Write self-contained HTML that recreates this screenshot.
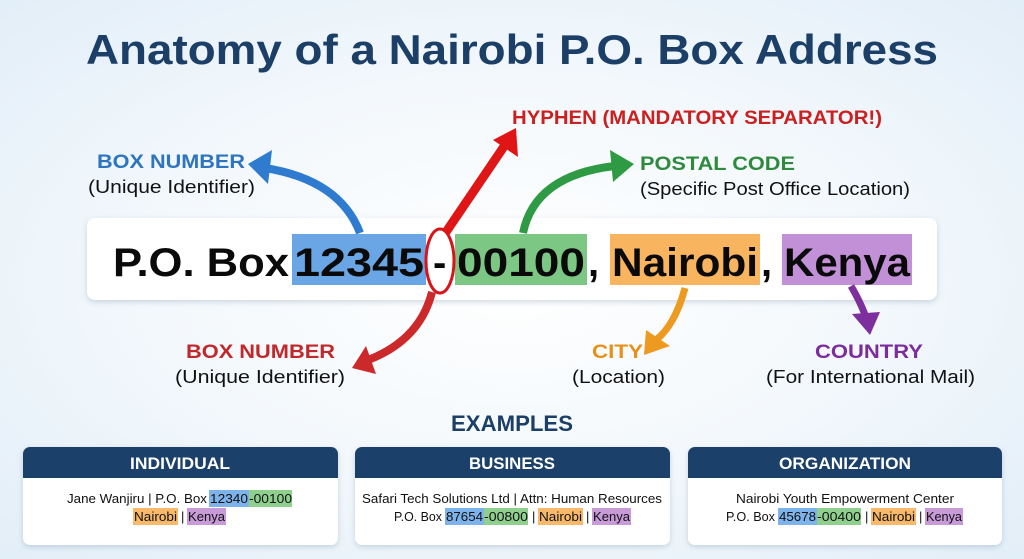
<!DOCTYPE html>
<html><head><meta charset="utf-8"><style>
html,body{margin:0;padding:0;width:1024px;height:559px;overflow:hidden}
body{background:radial-gradient(ellipse at 50% 50%,#ffffff 0%,#f3f8fc 50%,#e2eef8 100%)}
svg{display:block}
text{font-family:"Liberation Sans",sans-serif;font-weight:bold}
.n{font-weight:normal}
</style></head><body>
<svg width="1024" height="559" viewBox="0 0 1024 559">
<defs>
<filter id="sh" x="-5%" y="-20%" width="110%" height="150%"><feDropShadow dx="0" dy="2" stdDeviation="3" flood-color="#7a90a8" flood-opacity="0.35"/></filter>
</defs>
<text x="512" y="64" text-anchor="middle" font-size="42" fill="#1b3f66" textLength="852" lengthAdjust="spacingAndGlyphs">Anatomy of a Nairobi P.O. Box Address</text>

<rect x="87" y="218" width="850" height="82" rx="8" fill="#fff" filter="url(#sh)"/>
<rect x="292" y="234" width="134" height="51" fill="#6aa6e6"/>
<rect x="455" y="234" width="132" height="51" fill="#7cc784"/>
<rect x="610" y="234" width="150" height="51" fill="#f8b45e"/>
<rect x="782" y="234" width="130" height="51" fill="#c290d6"/>
<text x="113" y="276" font-size="40" fill="#0a0a0a" textLength="176" lengthAdjust="spacingAndGlyphs">P.O. Box</text>
<text x="294" y="276" font-size="40" fill="#0a0a0a" textLength="130" lengthAdjust="spacingAndGlyphs">12345</text>
<text x="433" y="276" font-size="40" fill="#0a0a0a">-</text>
<text x="457" y="276" font-size="40" fill="#0a0a0a" textLength="128" lengthAdjust="spacingAndGlyphs">00100</text>
<text x="588" y="276" font-size="40" fill="#0a0a0a">,</text>
<text x="612" y="276" font-size="40" fill="#0a0a0a" textLength="146" lengthAdjust="spacingAndGlyphs">Nairobi</text>
<text x="761" y="276" font-size="40" fill="#0a0a0a">,</text>
<text x="784" y="276" font-size="40" fill="#0a0a0a" textLength="126" lengthAdjust="spacingAndGlyphs">Kenya</text>
<ellipse cx="440" cy="261" rx="14" ry="32" fill="none" stroke="#d8141a" stroke-width="3"/>

<!-- arrows -->
<path d="M360 233 Q340 180 265 168" fill="none" stroke="#2e7bcf" stroke-width="8"/>
<polygon points="248,164 272,150 268,184" fill="#2e7bcf"/>
<path d="M446 232 L505 145" fill="none" stroke="#e01616" stroke-width="9"/>
<polygon points="516,128 493,140 518,157" fill="#e01616"/>
<path d="M523 233 Q535 175 615 166" fill="none" stroke="#2f9a44" stroke-width="8"/>
<polygon points="634,164 610,150 613,182" fill="#2f9a44"/>
<path d="M432 292 Q420 340 368 360" fill="none" stroke="#cc2a2a" stroke-width="8"/>
<polygon points="352,368 366,346 376,374" fill="#cc2a2a"/>
<path d="M685 288 Q675 325 656 340" fill="none" stroke="#ec9a20" stroke-width="7"/>
<polygon points="644,355 646,330 670,346" fill="#ec9a20"/>
<path d="M851 286 Q862 305 866 318" fill="none" stroke="#7e2f9e" stroke-width="7"/>
<polygon points="870,335 852,314 880,312" fill="#7e2f9e"/>

<!-- labels -->
<text x="97" y="168" font-size="19" fill="#2e75c0" textLength="148" lengthAdjust="spacingAndGlyphs">BOX NUMBER</text>
<text x="88" y="193" class="n" font-size="18" fill="#111" textLength="167" lengthAdjust="spacingAndGlyphs">(Unique Identifier)</text>
<text x="512" y="124" font-size="19" fill="#cc1f1f" textLength="370" lengthAdjust="spacingAndGlyphs">HYPHEN (MANDATORY SEPARATOR!)</text>
<text x="640" y="170" font-size="19" fill="#2e8b3e" textLength="155" lengthAdjust="spacingAndGlyphs">POSTAL CODE</text>
<text x="640" y="195" class="n" font-size="18" fill="#111" textLength="270" lengthAdjust="spacingAndGlyphs">(Specific Post Office Location)</text>
<text x="186" y="358" font-size="19" fill="#c0282b" textLength="149" lengthAdjust="spacingAndGlyphs">BOX NUMBER</text>
<text x="175" y="383" class="n" font-size="18" fill="#111" textLength="170" lengthAdjust="spacingAndGlyphs">(Unique Identifier)</text>
<text x="592" y="358" font-size="19" fill="#e8911a" textLength="51" lengthAdjust="spacingAndGlyphs">CITY</text>
<text x="572" y="383" class="n" font-size="18" fill="#111" textLength="93" lengthAdjust="spacingAndGlyphs">(Location)</text>
<text x="815" y="358" font-size="19" fill="#7b2d9e" textLength="108" lengthAdjust="spacingAndGlyphs">COUNTRY</text>
<text x="766" y="383" class="n" font-size="18" fill="#111" textLength="209" lengthAdjust="spacingAndGlyphs">(For International Mail)</text>

<text x="512" y="431" text-anchor="middle" font-size="22" fill="#1b3f66" textLength="122" lengthAdjust="spacingAndGlyphs">EXAMPLES</text>

<!-- cards -->
<g filter="url(#sh)">
<rect x="23" y="447" width="315" height="98" rx="7" fill="#fff"/>
<rect x="355" y="447" width="315" height="98" rx="7" fill="#fff"/>
<rect x="688" y="447" width="314" height="98" rx="7" fill="#fff"/>
</g>
<path d="M23 478 V454 a7 7 0 0 1 7 -7 H331 a7 7 0 0 1 7 7 V478 Z" fill="#1b406a"/>
<path d="M355 478 V454 a7 7 0 0 1 7 -7 H663 a7 7 0 0 1 7 7 V478 Z" fill="#1b406a"/>
<path d="M688 478 V454 a7 7 0 0 1 7 -7 H995 a7 7 0 0 1 7 7 V478 Z" fill="#1b406a"/>
<text x="180" y="469" text-anchor="middle" font-size="17" fill="#fff" textLength="100" lengthAdjust="spacingAndGlyphs">INDIVIDUAL</text>
<text x="512" y="469" text-anchor="middle" font-size="17" fill="#fff" textLength="86" lengthAdjust="spacingAndGlyphs">BUSINESS</text>
<text x="845" y="469" text-anchor="middle" font-size="17" fill="#fff" textLength="132" lengthAdjust="spacingAndGlyphs">ORGANIZATION</text>

<g font-size="13" fill="#111">
<!-- individual -->
<rect x="209" y="490" width="40" height="17" fill="#7db2ea"/>
<rect x="249" y="490" width="43" height="17" fill="#8fd08f"/>
<rect x="133" y="508" width="45" height="17" fill="#f8b96a"/>
<rect x="187" y="508" width="39" height="17" fill="#c89ad8"/>
<text x="67" y="503" class="n" textLength="140" lengthAdjust="spacingAndGlyphs">Jane Wanjiru | P.O. Box</text>
<text x="210" y="503" class="n" textLength="38" lengthAdjust="spacingAndGlyphs">12340</text>
<text x="249" y="503" class="n" textLength="43" lengthAdjust="spacingAndGlyphs">-00100</text>
<text x="134" y="521" class="n" textLength="43" lengthAdjust="spacingAndGlyphs">Nairobi</text>
<text x="181" y="521" class="n">|</text>
<text x="188" y="521" class="n" textLength="37" lengthAdjust="spacingAndGlyphs">Kenya</text>
<!-- business -->
<rect x="445" y="508" width="39" height="17" fill="#7db2ea"/>
<rect x="484" y="508" width="44" height="17" fill="#8fd08f"/>
<rect x="538" y="508" width="45" height="17" fill="#f8b96a"/>
<rect x="592" y="508" width="39" height="17" fill="#c89ad8"/>
<text x="362" y="503" class="n" textLength="300" lengthAdjust="spacingAndGlyphs">Safari Tech Solutions Ltd | Attn: Human Resources</text>
<text x="394" y="521" class="n" textLength="48" lengthAdjust="spacingAndGlyphs">P.O. Box</text>
<text x="446" y="521" class="n" textLength="37" lengthAdjust="spacingAndGlyphs">87654</text>
<text x="484" y="521" class="n" textLength="44" lengthAdjust="spacingAndGlyphs">-00800</text>
<text x="532" y="521" class="n">|</text>
<text x="539" y="521" class="n" textLength="43" lengthAdjust="spacingAndGlyphs">Nairobi</text>
<text x="586" y="521" class="n">|</text>
<text x="593" y="521" class="n" textLength="37" lengthAdjust="spacingAndGlyphs">Kenya</text>
<!-- organization -->
<rect x="778" y="508" width="39" height="17" fill="#7db2ea"/>
<rect x="817" y="508" width="44" height="17" fill="#8fd08f"/>
<rect x="871" y="508" width="45" height="17" fill="#f8b96a"/>
<rect x="925" y="508" width="38" height="17" fill="#c89ad8"/>
<text x="736" y="503" class="n" textLength="218" lengthAdjust="spacingAndGlyphs">Nairobi Youth Empowerment Center</text>
<text x="726" y="521" class="n" textLength="49" lengthAdjust="spacingAndGlyphs">P.O. Box</text>
<text x="779" y="521" class="n" textLength="37" lengthAdjust="spacingAndGlyphs">45678</text>
<text x="817" y="521" class="n" textLength="44" lengthAdjust="spacingAndGlyphs">-00400</text>
<text x="865" y="521" class="n">|</text>
<text x="872" y="521" class="n" textLength="43" lengthAdjust="spacingAndGlyphs">Nairobi</text>
<text x="919" y="521" class="n">|</text>
<text x="926" y="521" class="n" textLength="36" lengthAdjust="spacingAndGlyphs">Kenya</text>
</g>
</svg>
</body></html>
